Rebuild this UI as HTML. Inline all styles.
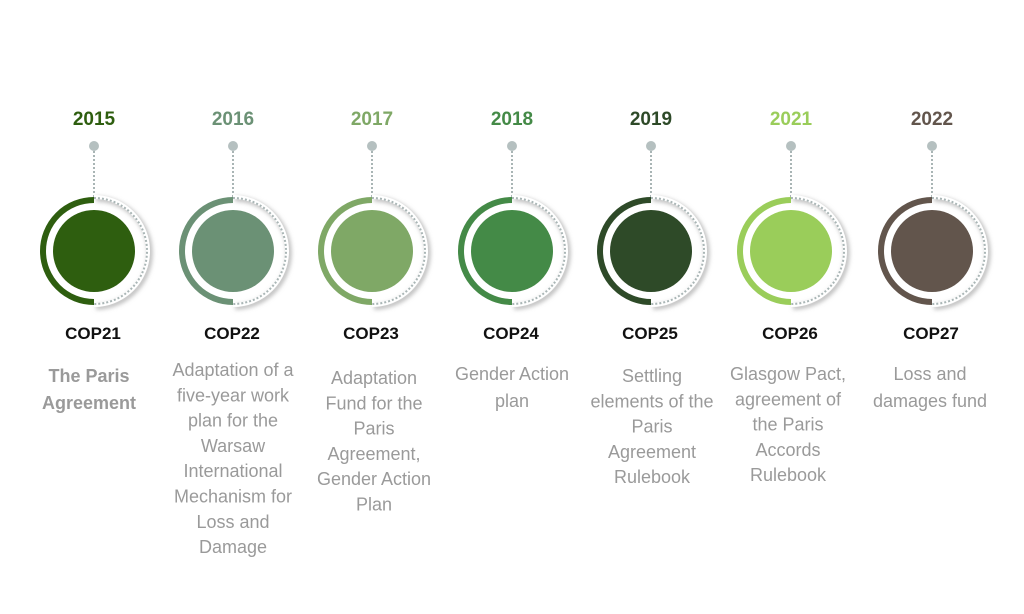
<!DOCTYPE html>
<html><head><meta charset="utf-8"><style>
html,body{margin:0;padding:0;background:#fff;width:1024px;height:614px;overflow:hidden}
svg text{font-family:"Liberation Sans",Arial,sans-serif}
</style></head><body>
<svg width="1024" height="614" viewBox="0 0 1024 614" xmlns="http://www.w3.org/2000/svg">
<defs>
<filter id="sh" x="-30%" y="-30%" width="160%" height="160%"><feGaussianBlur stdDeviation="2"/></filter>
<g id="node">
  <circle cx="0" cy="-105" r="5" fill="#b5c0c0"/>
  <line x1="0" y1="-100" x2="0" y2="-54" stroke="#a9b5b5" stroke-width="2" stroke-dasharray="2,2"/>
  <path d="M0,-54 A54,54 0 0 1 0,54" fill="none" stroke="#bbb" stroke-width="5" filter="url(#sh)" transform="translate(2,2)"/>
  <path d="M0,-54 A54,54 0 0 1 0,54" fill="none" stroke="#fff" stroke-width="4"/>
  <path d="M0,-53 A53,53 0 0 1 0,53" fill="none" stroke="#a9b5b5" stroke-width="2" stroke-dasharray="2,2"/>
</g>
</defs>
<g font-size="19" font-weight="bold" text-anchor="middle">
<text x="94" y="125" fill="#2e5e0f">2015</text>
<text x="233" y="125" fill="#6b9175">2016</text>
<text x="372" y="125" fill="#7fa866">2017</text>
<text x="512" y="125" fill="#448a47">2018</text>
<text x="651" y="125" fill="#2e4a28">2019</text>
<text x="791" y="125" fill="#9acd5a">2021</text>
<text x="932" y="125" fill="#62554c">2022</text>
</g>
<g transform="translate(94,251)"><use href="#node"/><path d="M0,-51 A51,51 0 0 0 0,51" fill="none" stroke="#2e5e0f" stroke-width="6"/><circle r="41" fill="#2e5e0f"/></g>
<g transform="translate(233,251)"><use href="#node"/><path d="M0,-51 A51,51 0 0 0 0,51" fill="none" stroke="#6b9175" stroke-width="6"/><circle r="41" fill="#6b9175"/></g>
<g transform="translate(372,251)"><use href="#node"/><path d="M0,-51 A51,51 0 0 0 0,51" fill="none" stroke="#7fa866" stroke-width="6"/><circle r="41" fill="#7fa866"/></g>
<g transform="translate(512,251)"><use href="#node"/><path d="M0,-51 A51,51 0 0 0 0,51" fill="none" stroke="#448a47" stroke-width="6"/><circle r="41" fill="#448a47"/></g>
<g transform="translate(651,251)"><use href="#node"/><path d="M0,-51 A51,51 0 0 0 0,51" fill="none" stroke="#2e4a28" stroke-width="6"/><circle r="41" fill="#2e4a28"/></g>
<g transform="translate(791,251)"><use href="#node"/><path d="M0,-51 A51,51 0 0 0 0,51" fill="none" stroke="#9acd5a" stroke-width="6"/><circle r="41" fill="#9acd5a"/></g>
<g transform="translate(932,251)"><use href="#node"/><path d="M0,-51 A51,51 0 0 0 0,51" fill="none" stroke="#62554c" stroke-width="6"/><circle r="41" fill="#62554c"/></g>
<g font-size="17" font-weight="bold" text-anchor="middle" fill="#111">
<text x="93" y="339">COP21</text><text x="232" y="339">COP22</text><text x="371" y="339">COP23</text><text x="511" y="339">COP24</text><text x="650" y="339">COP25</text><text x="790" y="339">COP26</text><text x="931" y="339">COP27</text>
</g>
<g font-size="18" text-anchor="middle" fill="#9a9a9a">
<text x="89" y="382" font-weight="bold"><tspan x="89">The Paris</tspan><tspan x="89" dy="27">Agreement</tspan></text>
<text y="376"><tspan x="233">Adaptation of a</tspan><tspan x="233" dy="25.3">five-year work</tspan><tspan x="233" dy="25.3">plan for the</tspan><tspan x="233" dy="25.3">Warsaw</tspan><tspan x="233" dy="25.3">International</tspan><tspan x="233" dy="25.3">Mechanism for</tspan><tspan x="233" dy="25.3">Loss and</tspan><tspan x="233" dy="25.3">Damage</tspan></text>
<text y="384"><tspan x="374">Adaptation</tspan><tspan x="374" dy="25.3">Fund for the</tspan><tspan x="374" dy="25.3">Paris</tspan><tspan x="374" dy="25.3">Agreement,</tspan><tspan x="374" dy="25.3">Gender Action</tspan><tspan x="374" dy="25.3">Plan</tspan></text>
<text y="380"><tspan x="512">Gender Action</tspan><tspan x="512" dy="27">plan</tspan></text>
<text y="382"><tspan x="652">Settling</tspan><tspan x="652" dy="25.3">elements of the</tspan><tspan x="652" dy="25.3">Paris</tspan><tspan x="652" dy="25.3">Agreement</tspan><tspan x="652" dy="25.3">Rulebook</tspan></text>
<text y="380"><tspan x="788">Glasgow Pact,</tspan><tspan x="788" dy="25.3">agreement of</tspan><tspan x="788" dy="25.3">the Paris</tspan><tspan x="788" dy="25.3">Accords</tspan><tspan x="788" dy="25.3">Rulebook</tspan></text>
<text y="380"><tspan x="930">Loss and</tspan><tspan x="930" dy="27">damages fund</tspan></text>
</g>
</svg>
</body></html>
